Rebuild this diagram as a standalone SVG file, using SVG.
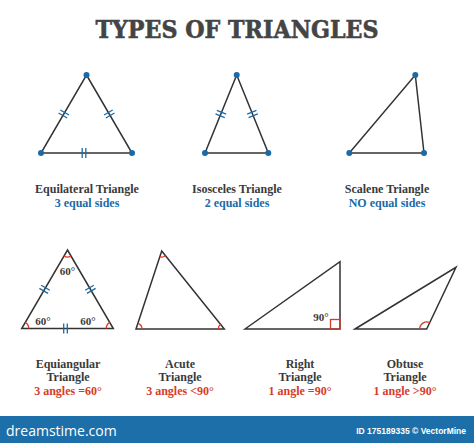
<svg xmlns="http://www.w3.org/2000/svg" width="474" height="443" viewBox="0 0 474 443">
<style>
.tri{fill:none;stroke:#333;stroke-width:1.5;stroke-linejoin:miter}
.dot{fill:#1a6aa8}
.tick{stroke:#1a6aa8;stroke-width:1.3;fill:none}
.ang{stroke:#d63b2a;stroke-width:1.3;fill:none}
.lbl{font-family:"Liberation Serif",serif;font-weight:bold;font-size:12px;fill:#3a3a3a;text-anchor:middle}
.blue{fill:#1a6aa8}
.red{fill:#d63b2a}
.deg{font-family:"Liberation Serif",serif;font-weight:bold;font-size:11px;fill:#3a3a3a;text-anchor:middle}
.title{font-family:"DejaVu Serif",serif;font-weight:bold;font-size:24px;fill:#444;stroke:#444;stroke-width:0.6;text-anchor:middle}
</style>
<defs>
<g id="tk"><line class="tick" x1="-1.8" y1="-5" x2="-1.8" y2="5"/><line class="tick" x1="1.8" y1="-5" x2="1.8" y2="5"/></g>
</defs>
<rect width="474" height="443" fill="#fff"/>
<text class="title" x="237" y="38" textLength="283" lengthAdjust="spacingAndGlyphs">TYPES OF TRIANGLES</text>

<g id="equilateral">
<polygon class="tri" points="86.5,75 132,153 41,153"/>
<use href="#tk" transform="translate(63.75,114) rotate(-60)"/>
<use href="#tk" transform="translate(109.25,114) rotate(60)"/>
<use href="#tk" transform="translate(84,153)"/>
<circle class="dot" cx="86.5" cy="75" r="3"/>
<circle class="dot" cx="41" cy="153" r="3"/>
<circle class="dot" cx="132" cy="153" r="3"/>
<text class="lbl" x="87" y="193">Equilateral Triangle</text>
<text class="lbl blue" x="87" y="207">3 equal sides</text>
</g>

<g id="isosceles">
<polygon class="tri" points="236.7,75 268.3,153 205,153"/>
<use href="#tk" transform="translate(220.8,114) rotate(-68)"/>
<use href="#tk" transform="translate(252.5,114) rotate(68)"/>
<circle class="dot" cx="236.7" cy="75" r="3"/>
<circle class="dot" cx="205" cy="153" r="3"/>
<circle class="dot" cx="268.3" cy="153" r="3"/>
<text class="lbl" x="237" y="193">Isosceles Triangle</text>
<text class="lbl blue" x="237" y="207">2 equal sides</text>
</g>

<g id="scalene">
<polygon class="tri" points="415.3,75 424,153 349.3,153"/>
<circle class="dot" cx="415.3" cy="75" r="3"/>
<circle class="dot" cx="349.3" cy="153" r="3"/>
<circle class="dot" cx="424" cy="153" r="3"/>
<text class="lbl" x="387" y="193">Scalene Triangle</text>
<text class="lbl blue" x="387" y="207">NO equal sides</text>
</g>

<g id="equiangular">
<polygon class="tri" points="67.5,250 113.3,328.5 21.7,328.5"/>
<path class="ang" d="M28.7,328.5 A7,7 0 0 0 25.2,322.4"/>
<path class="ang" d="M106.3,328.5 A7,7 0 0 1 109.8,322.4"/>
<path class="ang" d="M71,256.1 A7,7 0 0 1 64,256.1"/>
<use href="#tk" transform="translate(44.6,289.3) rotate(-60)"/>
<use href="#tk" transform="translate(90.4,289.3) rotate(60)"/>
<use href="#tk" transform="translate(65.5,328.5)"/>
<text class="deg" x="67.5" y="275">60°</text>
<text class="deg" x="43" y="325">60°</text>
<text class="deg" x="88" y="325">60°</text>
<text class="lbl" x="68" y="368">Equiangular</text>
<text class="lbl" x="68" y="381">Triangle</text>
<text class="lbl red" x="68" y="395">3 angles =60°</text>
</g>

<g id="acute">
<polygon class="tri" points="161.7,251 224.3,329 136,329"/>
<path class="ang" d="M142,329 A6,6 0 0 0 137.9,323.3"/>
<path class="ang" d="M218.3,329 A6,6 0 0 1 220.5,324.3"/>
<path class="ang" d="M165.45,255.7 A6,6 0 0 1 159.8,256.7"/>
<text class="lbl" x="180" y="368">Acute</text>
<text class="lbl" x="180" y="381">Triangle</text>
<text class="lbl red" x="180" y="395">3 angles &lt;90°</text>
</g>

<g id="right">
<polygon class="tri" points="245,329 340,261.7 340,329"/>
<rect class="ang" x="330.5" y="319.5" width="9.5" height="9.5"/>
<text class="deg" x="321" y="321">90°</text>
<text class="lbl" x="300" y="368">Right</text>
<text class="lbl" x="300" y="381">Triangle</text>
<text class="lbl red" x="300" y="395">1 angle =90°</text>
</g>

<g id="obtuse">
<polygon class="tri" points="355,329 456,267.3 426.7,329"/>
<path class="ang" d="M419.7,329 A7,7 0 0 1 429.7,322.7"/>
<text class="lbl" x="405" y="368">Obtuse</text>
<text class="lbl" x="405" y="381">Triangle</text>
<text class="lbl red" x="405" y="395">1 angle &gt;90°</text>
</g>

<g id="footer">
<rect x="0" y="416" width="474" height="27" fill="#1c6fa9"/>
<text x="6" y="436" font-family="'Open Sans',sans-serif" font-size="14" fill="#fff">dreamstime.com</text>
<text x="466" y="434" font-family="'Liberation Sans',sans-serif" font-weight="bold" font-size="8.5" fill="#fff" text-anchor="end">ID 175189335 © VectorMine</text>
</g>
</svg>
